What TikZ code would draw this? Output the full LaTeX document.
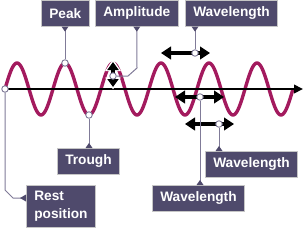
\documentclass[tikz,border=0pt]{standalone}
\usepackage{fontspec}
\setmainfont{Liberation Sans}
\usetikzlibrary{arrows.meta,positioning}
\definecolor{wavecol}{RGB}{163,26,94}
\definecolor{boxcol}{RGB}{79,74,108}
\definecolor{linkcol}{RGB}{128,123,152}
\tikzset{
  box/.style={fill=boxcol, draw=gray!45, line width=.6pt, text=white,
    font=\fontsize{13.7}{18}\selectfont\bfseries, inner xsep=8pt, inner ysep=0pt,
    minimum height=26pt, align=left},
  dot/.style={circle, fill=white, draw=linkcol, line width=.9pt, inner sep=0pt, minimum size=6.5pt},
  link/.style={linkcol, line width=1pt},
  span/.style={line width=4pt, {Triangle[length=10pt,width=12.5pt]}-{Triangle[length=10pt,width=12.5pt]}},
}
\newcommand{\notch}[2]{\fill[boxcol] (#1) +(-3.5,0) -- +(0,#2) -- +(3.5,0) -- cycle;}

\begin{document}
\begin{tikzpicture}[x=1pt, y=-1pt]
    \useasboundingbox (0,0) rectangle (304,230);
    % wave and rest line
    \draw[wavecol, line width=3.4pt, line join=round] plot[domain=0:288, samples=289, variable=\t] ({5+\t}, {89-26*sin(7.5*\t)});
    \draw[line width=2pt, -{Triangle[length=9pt,width=8.5pt]}] (2,89) -- (303,89);
    % arrows
    \draw[white, line width=7pt, {Triangle[length=12pt,width=15pt]}-{Triangle[length=12pt,width=15pt]}] (113,59) -- (113,89.5);
    \draw[span, line width=3.5pt, {Triangle[length=8pt,width=11pt]}-{Triangle[length=8pt,width=11pt]}] (113,62) -- (113,87);
    \draw[span] (161,53) -- (210,53);
    \draw[span] (175,97) -- (224,97);
    \draw[span] (185,124) -- (234,124);
    % points on the wave
    \node[dot] (restdot) at (5,89) {};
    \node[dot] (peakdot) at (65,63) {};
    \node[dot] (troughdot) at (89,115) {};
    \node[dot] (ampdot) at (113,76) {};
    \node[dot] (wlonedot) at (195,53) {};
    \node[dot] (wltwodot) at (200,97) {};
    \node[dot] (wlthreedot) at (219,124) {};
    % labels
    \node[box, anchor=north west] (peak) at (41,0) {Peak};
    \node[box, anchor=north west] (amp) at (95,0) {Amplitude};
    \node[box, anchor=north west] (wlone) at (185,0) {Wavelength};
    \node[box, anchor=north west] (trough) at (57,148) {Trough};
    \node[box, anchor=north west] (wlthree) at (205,151) {Wavelength};
    \node[box, anchor=north west] (wltwo) at (152,185) {Wavelength};
    \node[box, anchor=north west, inner ysep=6pt] (rest) at (26,185) {Rest\\position};
    \coordinate (restptr) at ([yshift=-13pt]rest.north west);
    % connectors
    \draw[link] (peakdot) -- (peakdot |- peak.south);
    \draw[link] (ampdot) -- ++(15,0) -- ++(9,-8) -- (amp.south);
    \draw[link] (wlonedot) -- (wlonedot |- wlone.south);
    \draw[link] (troughdot) -- (troughdot |- trough.north);
    \draw[link] (wltwodot) -- (wltwodot |- wltwo.north);
    \draw[link] (wlthreedot) -- (wlthreedot |- wlthree.north);
    \draw[link] (restdot) -- ++(0,101) -- ++(8,8) -- (restptr);
    \notch{peakdot |- peak.south}{5}
    \notch{amp.south}{5}
    \notch{wlonedot |- wlone.south}{5}
    \notch{troughdot |- trough.north}{-5}
    \notch{wltwodot |- wltwo.north}{-5}
    \notch{wlthreedot |- wlthree.north}{-5}
    \fill[boxcol] (restptr) +(0,-3.5) -- +(-6,0) -- +(0,3.5) -- cycle;
\end{tikzpicture}
\end{document}
